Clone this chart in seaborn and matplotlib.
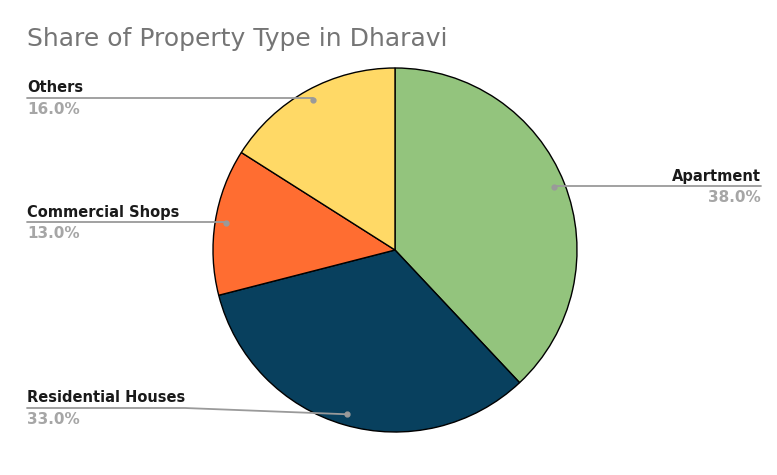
import numpy as np
import matplotlib
matplotlib.use("Agg")
import matplotlib.pyplot as plt
import seaborn as sns

# ==================== data ====================
categories = ["Apartment", "Residential Houses", "Commercial Shops", "Others"]
shares = [38.0, 33.0, 13.0, 16.0]
colors = ["#93c47d", "#08405e", "#ff6d31", "#ffd966"]

TITLE = "Share of Property Type in Dharavi"

sns.set_theme(style="white")
plt.rcParams["font.family"] = ["DejaVu Sans"]

W, H = 777, 475
fig = plt.figure(figsize=(W / 100, H / 100), dpi=100)

# pie axes placed in pixels: centre (395, 250), radius 182
cx, cy, r = 395, 250, 182
ax = fig.add_axes([(cx - r) / W, (H - cy - r) / H, 2 * r / W, 2 * r / H])
ax.pie(shares, colors=colors, startangle=90, counterclock=False,
       wedgeprops=dict(edgecolor="black", linewidth=1.0), radius=1.0)
ax.set_xlim(-1, 1)
ax.set_ylim(-1, 1)
ax.set_aspect("equal")
ax.axis("off")

fig.text(27 / W, 1 - 39 / H, TITLE, fontsize=18, color="#757575", va="center", ha="left")

# label layout (pixel positions of the leader line end on the text side)
label_pos = {
    "Apartment": (761, 186, "right", None),
    "Residential Houses": (27, 408, "left", 185),
    "Commercial Shops": (27, 222, "left", None),
    "Others": (27, 98, "left", None),
}

def px(x, y):
    return x / W, 1 - y / H

cum = np.cumsum([0] + shares[:-1])
for name, val, start in zip(categories, shares, cum):
    mid = np.deg2rad(90 - (start + val / 2) / 100 * 360)
    dx = cx + 0.94 * r * np.cos(mid)
    dy = cy - 0.94 * r * np.sin(mid)
    lx, ly, ha, bend = label_pos[name]
    if bend is None:
        xs, ys = [lx, dx], [ly, ly]
    else:
        xs, ys = [lx, bend, dx], [ly, ly, dy]
    fx = [x / W for x in xs]
    fy = [1 - y / H for y in ys]
    fig.add_artist(plt.Line2D(fx, fy, color="#9a9a9a", linewidth=1.3))
    fig.add_artist(plt.Line2D([dx / W], [1 - dy / H], marker="o", markersize=3.5,
                              color="#9a9a9a", linestyle=""))
    fig.text(*px(lx, ly - 10), name, fontsize=10.5, fontweight="bold", color="#1a1a1a",
             ha=ha, va="center")
    fig.text(*px(lx, ly + 12), f"{val:.1f}%", fontsize=11, fontweight="bold",
             color="#a6a6a6", ha=ha, va="center")

fig.savefig("out.png", dpi=100)
